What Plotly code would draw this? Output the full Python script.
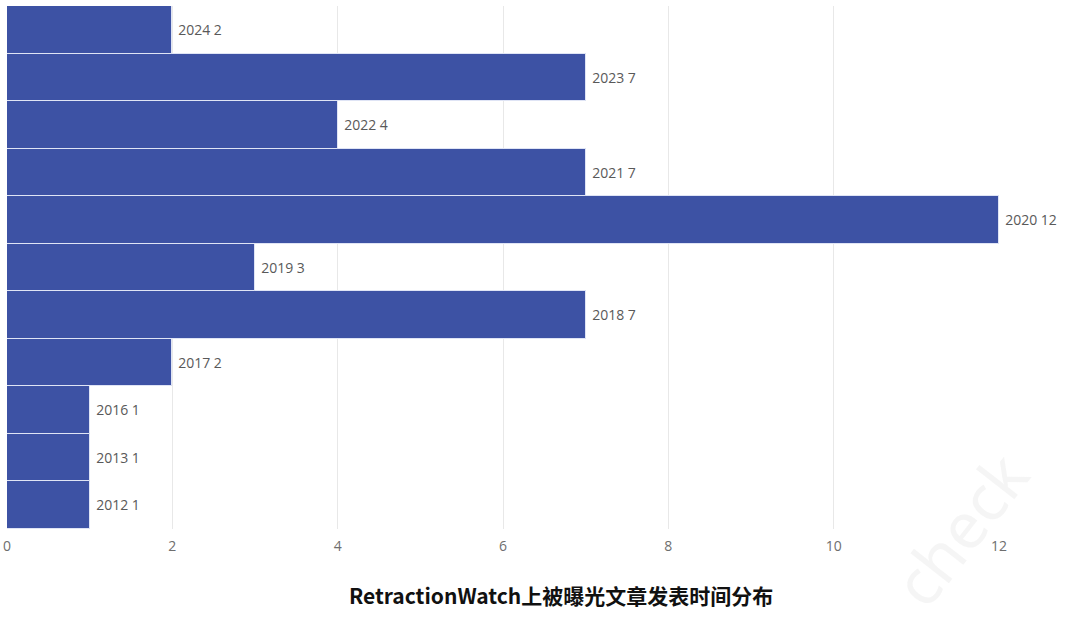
import plotly.graph_objects as go

years = ["2012", "2013", "2016", "2017", "2018", "2019", "2020", "2021", "2022", "2023", "2024"]
counts = [1, 1, 1, 2, 7, 3, 12, 7, 4, 7, 2]
labels = [f" {y} {c}" for y, c in zip(years, counts)]
x_ticks = [0, 2, 4, 6, 8, 10, 12]
title_text = "RetractionWatch上被曝光文章发表时间分布"

fig = go.Figure(go.Bar(
    y=years, x=counts, orientation="h",
    text=labels, textposition="outside", cliponaxis=False,
    textfont=dict(family="Open Sans, Noto Sans, sans-serif", size=14, color="#595959"),
    marker=dict(color="#3d52a4", line=dict(color="#dfe4f5", width=1)),
    hoverinfo="skip",
))

fig.update_layout(
    width=1080, height=627,
    margin=dict(l=7, r=81, t=6, b=98),
    paper_bgcolor="white", plot_bgcolor="white",
    bargap=0, showlegend=False,
    xaxis=dict(range=[0, 12], tickvals=x_ticks, showgrid=True, gridcolor="#e8e8e8", gridwidth=1,
               zeroline=False, showline=False, ticks="outside", ticklen=4, tickcolor="rgba(0,0,0,0)",
               automargin=False,
               tickfont=dict(family="Open Sans, Noto Sans, sans-serif", size=14, color="#6e6e6e")),
    yaxis=dict(type="category", categoryorder="array", categoryarray=years, automargin=False,
               showticklabels=False, showgrid=False, zeroline=False, showline=False, ticks=""),
    annotations=[
        dict(text=f"<b>{title_text}</b>", xref="paper", yref="paper", x=0.5585, y=-0.126,
             xanchor="center", yanchor="middle", showarrow=False,
             font=dict(family="Noto Sans CJK SC, sans-serif", size=21, color="#111111")),
        dict(text="check", xref="paper", yref="paper", x=0.96, y=0.0,
             xanchor="center", yanchor="middle", showarrow=False, textangle=-52,
             font=dict(family="Noto Sans, sans-serif", size=64, color="rgba(200,200,200,0.18)")),
    ],
)

fig.write_html("out.html")
